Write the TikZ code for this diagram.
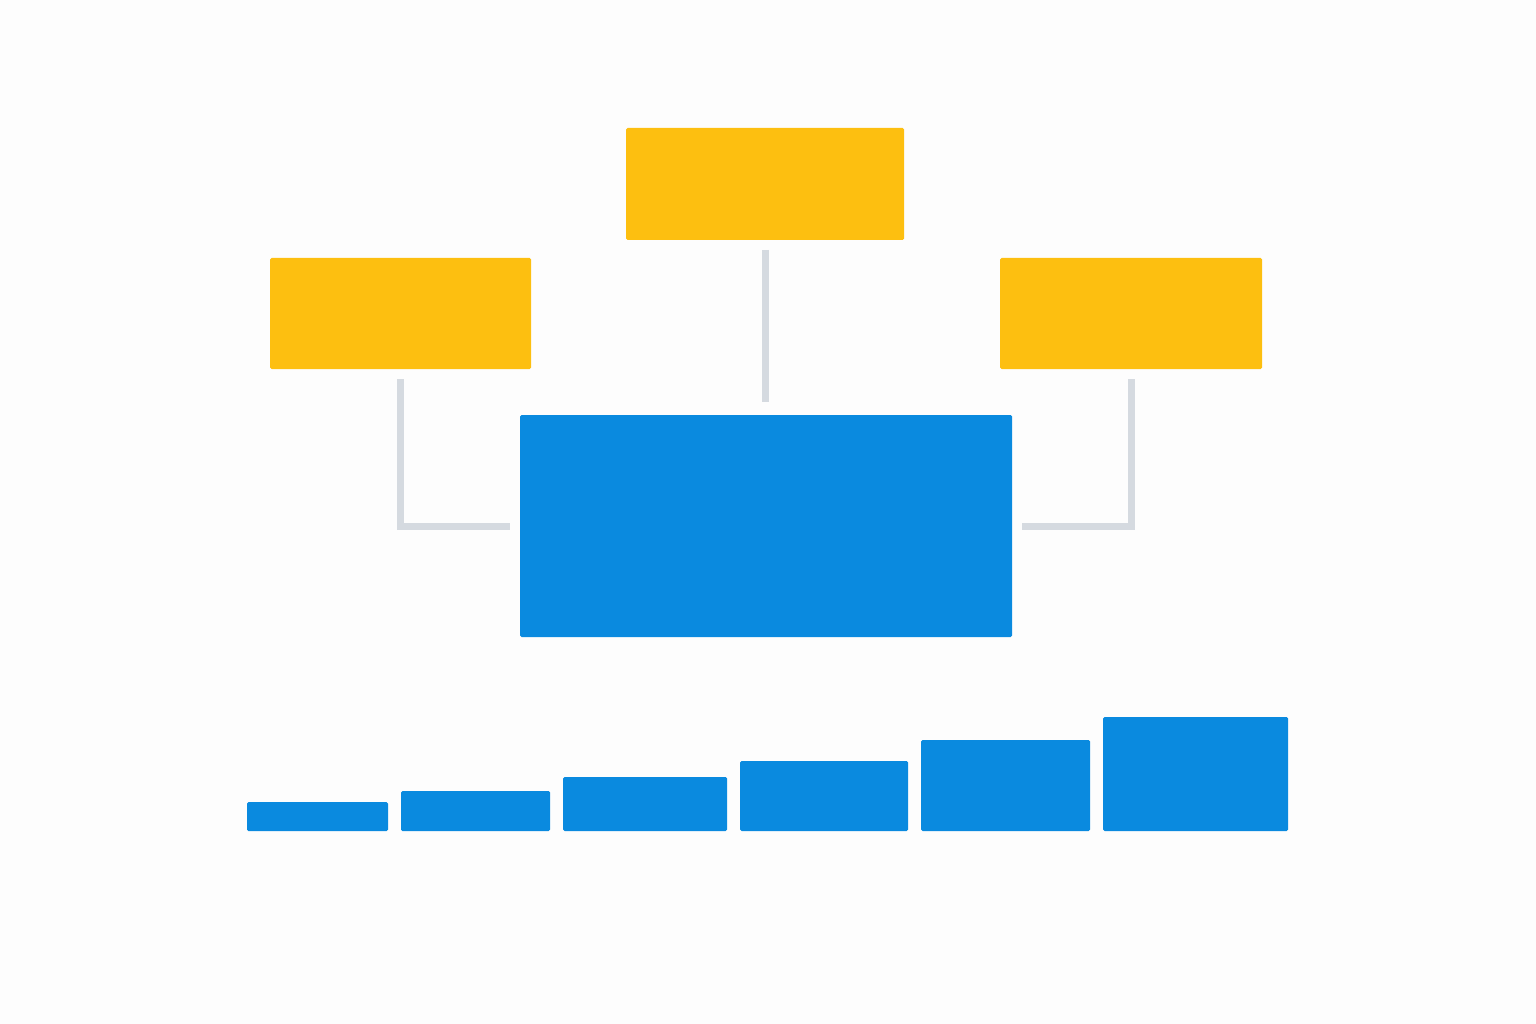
\documentclass[tikz,border=0pt]{standalone}
\definecolor{ylw}{HTML}{FDBF10}
\definecolor{blu}{HTML}{0A8ADF}
\definecolor{conn}{HTML}{D5DAE0}
\definecolor{bg}{HTML}{FDFDFD}
\begin{document}
\begin{tikzpicture}[x=1pt,y=-1pt,
  box/.style={draw=none,rounded corners=1.5pt,inner sep=0pt,outer sep=0pt,anchor=north west},
  ybox/.style={box,fill=ylw},
  bbox/.style={box,fill=blu},
  link/.style={draw=conn,line width=7pt}]
\fill[bg] (0,0) rectangle (1536,1024);
\useasboundingbox (0,0) rectangle (1536,1024);
% yellow boxes
\node[ybox,minimum width=278pt,minimum height=112pt] (T) at (626,128) {};
\node[ybox,minimum width=261pt,minimum height=111pt] (L) at (270,258) {};
\node[ybox,minimum width=262pt,minimum height=111pt] (R) at (1000,258) {};
% central blue
\node[bbox,minimum width=492pt,minimum height=222pt] (C) at (520,415) {};
% bars
\node[bbox,minimum width=141pt,minimum height=29pt] (b1) at (247,802) {};
\node[bbox,minimum width=149pt,minimum height=40pt] (b2) at (401,791) {};
\node[bbox,minimum width=164pt,minimum height=54pt] (b3) at (563,777) {};
\node[bbox,minimum width=168pt,minimum height=70pt] (b4) at (740,761) {};
\node[bbox,minimum width=169pt,minimum height=91pt] (b5) at (921,740) {};
\node[bbox,minimum width=185pt,minimum height=114pt] (b6) at (1103,717) {};
% connectors
\coordinate (ts) at ([yshift=-10pt]T.south);
\coordinate (ct) at ([yshift=13pt]C.north);
\draw[link] (ts) -- (ts |- ct);
\coordinate (ls) at ([yshift=-10pt]L.south);
\coordinate (cw) at ([xshift=-10pt]C.west);
\draw[link] (ls) |- (cw);
\coordinate (rs) at ([yshift=-10pt]R.south);
\coordinate (ce) at ([xshift=10pt]C.east);
\draw[link] (rs) |- (ce);
\end{tikzpicture}
\end{document}
